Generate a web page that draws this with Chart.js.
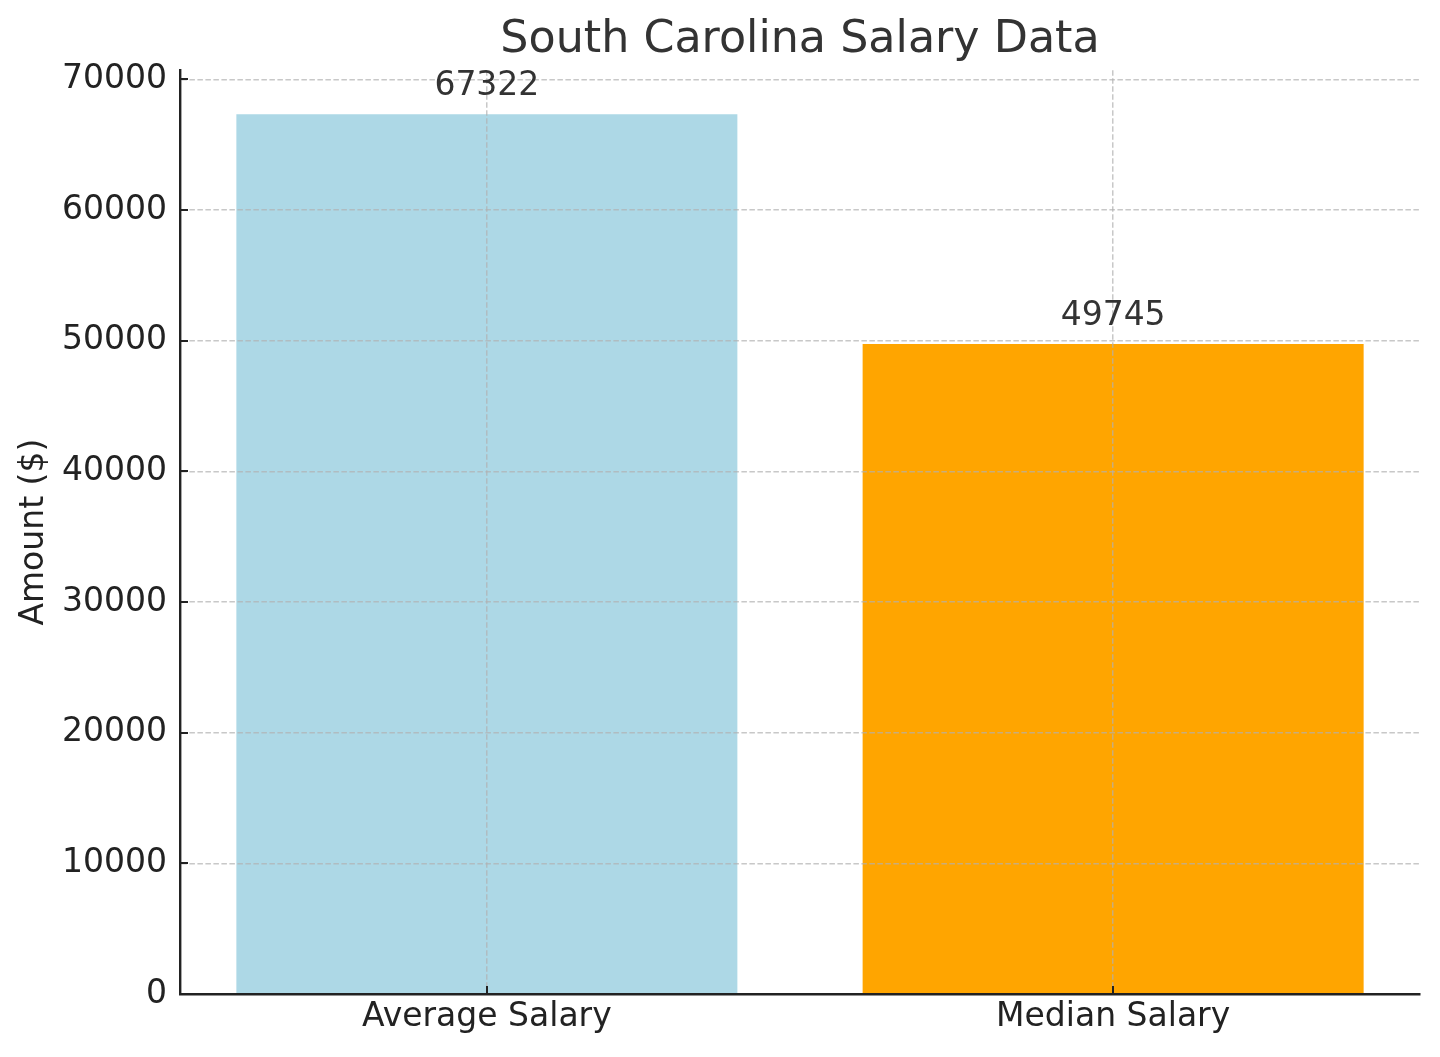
<!DOCTYPE html>
<html>
<head>
<meta charset="utf-8">
<title>South Carolina Salary Data</title>
<script src="https://cdn.jsdelivr.net/npm/chart.js@4.4.1/dist/chart.umd.min.js"></script>
<style>
  html, body { margin: 0; padding: 0; background: #fff; }
</style>
</head>
<body>
<canvas id="myChart" width="1440" height="1057"></canvas>
<script>
// data
const categories = ["Average Salary", "Median Salary"];
const amounts = [67322, 49745];
const barColors = ["#ADD8E6", "#FFA500"];
const yTicks = [0, 10000, 20000, 30000, 40000, 50000, 60000, 70000];

const FONT = "DejaVu Sans";
const gridColor = "rgba(176,176,176,0.7)";
const axisColor = "#222222";

// value labels above the bars + inward tick marks
const extras = {
  id: "extras",
  afterDraw(chart) {
    const ctx = chart.ctx;
    const x = chart.scales.x;
    const y = chart.scales.y;
    const area = chart.chartArea;
    ctx.save();
    ctx.strokeStyle = axisColor;
    ctx.lineWidth = 2;
    y.ticks.forEach(function(t) {
      const py = Math.round(y.getPixelForValue(t.value));
      ctx.beginPath();
      ctx.moveTo(area.left, py);
      ctx.lineTo(area.left + 8, py);
      ctx.stroke();
    });
    x.ticks.forEach(function(t) {
      const px = Math.round(x.getPixelForValue(t.value));
      ctx.beginPath();
      ctx.moveTo(px, area.bottom);
      ctx.lineTo(px, area.bottom - 8);
      ctx.stroke();
    });

    ctx.fillStyle = "#333333";
    ctx.font = "33px '" + FONT + "'";
    ctx.textAlign = "center";
    ctx.textBaseline = "alphabetic";
    chart.getDatasetMeta(0).data.forEach(function(bar, i) {
      ctx.fillText(String(amounts[i]), bar.x, bar.y - 19);
    });
    ctx.restore();
  }
};

const ctx = document.getElementById("myChart").getContext("2d");

const chart = new Chart(ctx, {
  type: "bar",
  data: {
    datasets: [{
      data: amounts.map(function(v, i) { return { x: i, y: v }; }),
      backgroundColor: barColors,
      borderWidth: 0,
      categoryPercentage: 1,
      barPercentage: 0.8
    }]
  },
  options: {
    responsive: false,
    animation: false,
    devicePixelRatio: 1,
    layout: { padding: { left: 0, right: 20, top: 0, bottom: 0 } },
    plugins: {
      legend: { display: false },
      tooltip: { enabled: false },
      title: {
        display: true,
        fullSize: false,
        text: "South Carolina Salary Data",
        color: "#333333",
        font: { family: FONT, size: 44.4, weight: "normal" },
        padding: { top: 14, bottom: 3 }
      }
    },
    scales: {
      x: {
        type: "linear",
        offset: false,
        min: -0.49,
        max: 1.49,
        afterBuildTicks: function(scale) {
          scale.ticks = categories.map(function(c, i) { return { value: i }; });
        },
        afterFit: function(scale) { scale.height = 63; },
        ticks: {
          callback: function(v) { return categories[Math.round(v)]; },
          color: axisColor,
          font: { family: FONT, size: 33 },
          padding: 4,
          autoSkip: false,
          maxRotation: 0
        },
        grid: { offset: false, color: gridColor, lineWidth: 1.5, drawTicks: false, z: 1 },
        border: { display: true, color: axisColor, width: 2.4, dash: [5.5, 2.5], z: 2 }
      },
      y: {
        type: "linear",
        min: 0,
        max: amounts[0] * 1.05,
        afterBuildTicks: function(scale) {
          scale.ticks = yTicks.map(function(v) { return { value: v }; });
        },
        afterFit: function(scale) { scale.width = 180; },
        ticks: {
          autoSkip: false,
          callback: function(v) { return String(v); },
          color: axisColor,
          font: { family: FONT, size: 33 },
          padding: 13
        },
        title: {
          display: true,
          text: "Amount ($)",
          color: axisColor,
          font: { family: FONT, size: 33 },
          padding: { top: 15, bottom: 0 }
        },
        grid: {
          color: function(c) {
            return c.tick && c.tick.value > 0 ? gridColor : "rgba(0,0,0,0)";
          },
          lineWidth: 1.5,
          drawTicks: false,
          z: 1
        },
        border: { display: true, color: axisColor, width: 2.4, dash: [5.5, 2.5], z: 2 }
      }
    }
  },
  plugins: [extras]
});
</script>
</body>
</html>
